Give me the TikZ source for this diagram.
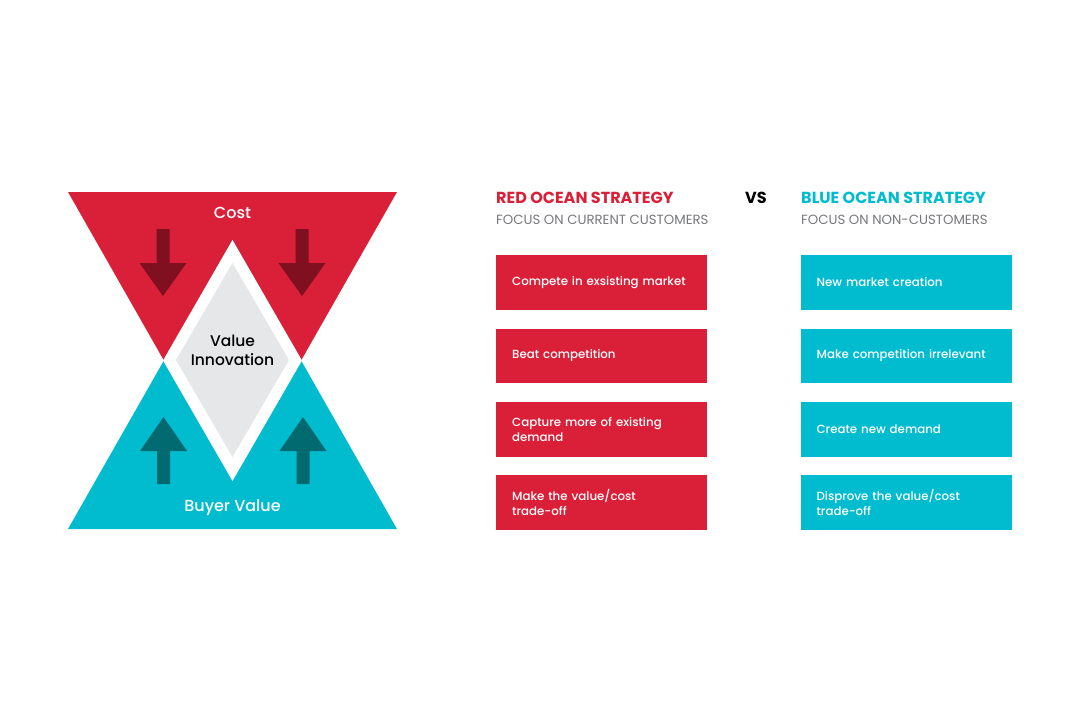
\documentclass[tikz,border=0pt]{standalone}
\usepackage{fontspec}
\setmainfont{Poppins}
\newfontfamily\poppinsmedium{Poppins Medium}
\usepackage{tikz}
\usetikzlibrary{positioning}
\definecolor{oceanred}{HTML}{D92038}
\definecolor{oceanblue}{HTML}{00BCCE}
\definecolor{darkred}{HTML}{80101F}
\definecolor{darkteal}{HTML}{006A70}
\definecolor{vigray}{HTML}{E6E7E8}
\definecolor{subgray}{HTML}{77787B}
\tikzset{
  redbox/.style={
    rectangle,
    fill=oceanred,
    text=white,
    font=\poppinsmedium\fontsize{11.8}{15.5}\selectfont,
    minimum width=211pt,
    minimum height=54.5pt,
    text width=179pt,
    inner xsep=16pt,
    align=left
  },
  bluebox/.style={
    redbox,
    fill=oceanblue
  },
  heading/.style={
    anchor=west,
    inner sep=0pt,
    font=\fontsize{16}{18}\selectfont\bfseries
  },
  subheading/.style={
    anchor=west,
    inner sep=0pt,
    text=subgray,
    font=\fontsize{13.3}{15}\selectfont
  },
  shapelabel/.style={
    text=white,
    font=\poppinsmedium\fontsize{16}{18}\selectfont
  }
}

\begin{document}
\begin{tikzpicture}[x=1pt, y=-1pt, node distance=18.5pt]
\useasboundingbox (0,0) rectangle (1080,720);

% Triangles
\fill[oceanred] (68,192) -- (397,192) -- (232.5,481) -- cycle;
\fill[oceanblue] (68,529) -- (397,529) -- (232.5,240) -- cycle;
\fill[white] (232.5,240) -- (302,360.5) -- (232.5,481) -- (163,360.5) -- cycle;
\fill[vigray] (232.5,263) -- (289,360) -- (232.5,457) -- (176,360) -- cycle;

% Arrows
\foreach \cx in {163,302} {
  \fill[darkred] (\cx-6.5,229) -- (\cx+6.5,229) -- (\cx+6.5,263) -- (\cx+23.5,263)
    -- (\cx,296) -- (\cx-23.5,263) -- (\cx-6.5,263) -- cycle;
}
\foreach \cx in {163.5,303} {
  \fill[darkteal] (\cx-6.5,484) -- (\cx+6.5,484) -- (\cx+6.5,451) -- (\cx+23.5,451)
    -- (\cx,417) -- (\cx-23.5,451) -- (\cx-6.5,451) -- cycle;
}

% Labels
\node (cost) [shapelabel] at (232.5,213) {Cost};
\node (buyer) [shapelabel] at (232.5,508) {Buyer Value};
\node (vi) [align=center, font=\poppinsmedium\fontsize{15.5}{19}\selectfont] at (232.5,350) {Value\\Innovation};

% Headings
\node (redhead) [heading, text=oceanred] at (496,198) {RED OCEAN STRATEGY};
\node (redsub) [subheading] at (496,219.5) {FOCUS ON CURRENT CUSTOMERS};
\node (vs) [heading, anchor=center] at (756,198) {VS};
\node (bluehead) [heading, text=oceanblue] at (801,198) {BLUE OCEAN STRATEGY};
\node (bluesub) [subheading] at (801,219.5) {FOCUS ON NON-CUSTOMERS};

% Boxes
\node (r1) [redbox, anchor=north west] at (496,255) {Compete in exsisting market};
\node (r2) [redbox, below=of r1] {Beat competition};
\node (r3) [redbox, below=of r2] {Capture more of existing\\demand};
\node (r4) [redbox, below=of r3] {Make the value/cost\\trade-off};

\node (b1) [bluebox, right=93pt of r1] {New market creation};
\node (b2) [bluebox, right=93pt of r2] {Make competition irrelevant};
\node (b3) [bluebox, right=93pt of r3] {Create new demand};
\node (b4) [bluebox, right=93pt of r4] {Disprove the value/cost\\trade-off};

\end{tikzpicture}
\end{document}
